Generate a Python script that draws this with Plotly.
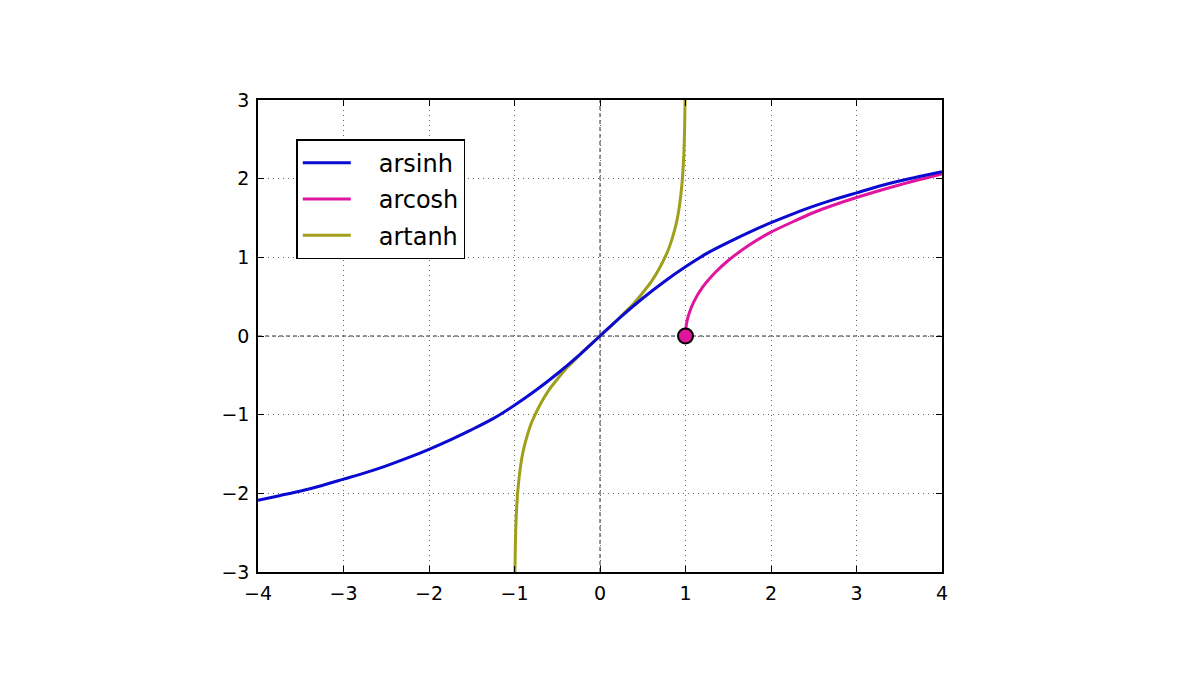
import plotly.graph_objects as go

# values
arsinh_x = [-4, -3.75, -3.5, -3.25, -3, -2.75, -2.5, -2.25, -2, -1.75, -1.5, -1.25, -1,
            -0.75, -0.5, -0.25, 0, 0.25, 0.5, 0.75, 1, 1.25, 1.5, 1.75, 2, 2.25, 2.5,
            2.75, 3, 3.25, 3.5, 3.75, 4]
arsinh_y = [-2.09, -2.03, -1.97, -1.90, -1.82, -1.74, -1.65, -1.55, -1.44, -1.32, -1.19, -1.05, -0.88,
            -0.69, -0.48, -0.25, 0, 0.25, 0.48, 0.69, 0.88, 1.05, 1.19, 1.32, 1.44, 1.55, 1.65,
            1.74, 1.82, 1.90, 1.97, 2.03, 2.09]

arcosh_x = [1, 1.005, 1.02, 1.05, 1.1, 1.2, 1.35, 1.5, 1.75, 2, 2.5, 3, 3.5, 4]
arcosh_y = [0, 0.10, 0.20, 0.31, 0.44, 0.62, 0.81, 0.96, 1.16, 1.32, 1.57, 1.76, 1.92, 2.06]

artanh_x = [-0.995, -0.99, -0.98, -0.96, -0.93, -0.9, -0.85, -0.8, -0.7, -0.6, -0.5, -0.4,
            -0.3, -0.2, -0.1, 0, 0.1, 0.2, 0.3, 0.4, 0.5, 0.6, 0.7, 0.8, 0.85, 0.9,
            0.93, 0.96, 0.98, 0.99, 0.995]
artanh_y = [-3.0, -2.65, -2.30, -1.95, -1.66, -1.47, -1.26, -1.10, -0.87, -0.69, -0.55, -0.42,
            -0.31, -0.20, -0.10, 0, 0.10, 0.20, 0.31, 0.42, 0.55, 0.69, 0.87, 1.10, 1.26, 1.47,
            1.66, 1.95, 2.30, 2.65, 3.0]

point_x = [1]
point_y = [0]

x_ticks = [-4, -3, -2, -1, 0, 1, 2, 3, 4]
y_ticks = [-3, -2, -1, 0, 1, 2, 3]

BLUE = "#0a0ad0"
MAGENTA = "#e0159f"
OLIVE = "#9f9f1c"
PAD = "\u00a0\u00a0\u00a0"

fig = go.Figure()
fig.add_trace(go.Scatter(x=artanh_x, y=artanh_y, mode="lines", name=PAD + "artanh", legendrank=3,
                         legendgroup="c",
                         line=dict(color=OLIVE, width=3, shape="spline", smoothing=0.6)))
fig.add_trace(go.Scatter(x=arcosh_x, y=arcosh_y, mode="lines", name=PAD + "arcosh", legendrank=2,
                         legendgroup="b",
                         line=dict(color=MAGENTA, width=3, shape="spline", smoothing=0.6)))
fig.add_trace(go.Scatter(x=arsinh_x, y=arsinh_y, mode="lines", name=PAD + "arsinh", legendrank=1,
                         legendgroup="a",
                         line=dict(color=BLUE, width=3, shape="spline", smoothing=0.8)))
fig.add_trace(go.Scatter(x=point_x, y=point_y, mode="markers", showlegend=False,
                         marker=dict(color=MAGENTA, size=15, line=dict(color="black", width=2))))

fig.add_shape(type="line", xref="paper", yref="y", x0=0, x1=1, y0=0, y1=0,
              line=dict(color="#333333", width=1, dash="4px,3px"), layer="below")
fig.add_shape(type="line", xref="x", yref="paper", x0=0, x1=0, y0=0, y1=1,
              line=dict(color="#333333", width=1, dash="4px,3px"), layer="below")

axis_common = dict(showline=True, linecolor="black", linewidth=1.5, mirror="allticks",
                   ticks="inside", ticklen=6, tickcolor="black", tickwidth=1,
                   showgrid=True, gridcolor="#666666", griddash="1px,4px", gridwidth=1,
                   zeroline=False, ticklabelstandoff=3,
                   tickfont=dict(family="DejaVu Sans", size=19, color="black"))

fig.update_xaxes(range=[-4, 4], tickvals=x_ticks, **axis_common)
fig.update_yaxes(range=[-3, 3], tickvals=y_ticks, **axis_common)

fig.update_layout(
    width=1200, height=675,
    margin=dict(l=258, r=258, t=100, b=103),
    plot_bgcolor="white", paper_bgcolor="white",
    font=dict(family="DejaVu Sans", color="black"),
    legend=dict(x=0.056, y=0.917, xanchor="left", yanchor="top",
                bordercolor="black", borderwidth=1.5, bgcolor="white",
                font=dict(size=24, family="DejaVu Sans"), tracegroupgap=2,
                itemwidth=48, traceorder="grouped"),
)

fig.write_html("out.html", config={"displayModeBar": False},
               post_script="document.body.style.margin='0';document.body.style.padding='0';")
